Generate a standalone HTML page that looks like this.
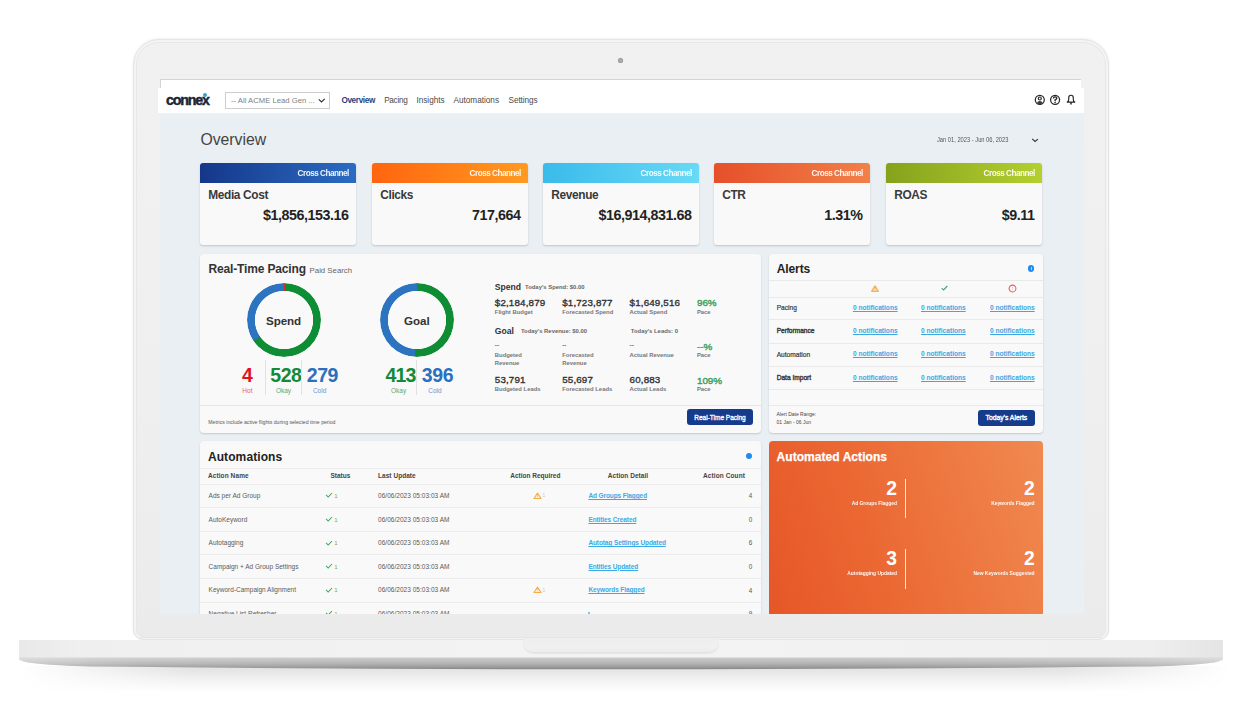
<!DOCTYPE html>
<html><head><meta charset="utf-8">
<style>
*{margin:0;padding:0;box-sizing:border-box}
html,body{width:1252px;height:705px;overflow:hidden;background:#fff}
body{position:relative;font-family:"Liberation Sans",sans-serif;color:#333}
.a{position:absolute}
.nw{white-space:nowrap}
svg{position:absolute;overflow:visible}
u{text-decoration:underline;text-underline-offset:1px}
</style></head><body>

<div class="a" style="left:20px;top:666px;width:1210px;height:26px;background:linear-gradient(#e2e2e2,#e6e6e6 20%,#efefef 45%,#f7f7f7 72%,#fff);-webkit-mask:linear-gradient(90deg,transparent 0,#000 14%,#000 86%,transparent 100%);mask:linear-gradient(90deg,transparent 0,#000 14%,#000 86%,transparent 100%)"></div>
<div class="a" style="left:133px;top:39px;width:976px;height:601px;background:linear-gradient(#f1f1f1,#efefef 60%,#ebebeb);border:1px solid #e4e4e4;border-radius:26px 26px 10px 10px;box-shadow:0 -1px 3px rgba(0,0,0,.04),0 0 2px rgba(0,0,0,.05),inset 0 0 0 2px #f4f4f4,inset 0 0 0 3px #e7e7e7"></div>
<div class="a" style="left:140px;top:628px;width:962px;height:9px;background:#ebebeb"></div>
<div class="a" style="left:140px;top:636.5px;width:962px;height:1px;background:#e5e5e5"></div>
<div class="a" style="left:19px;top:639.5px;width:1204px;height:18.5px;background:linear-gradient(90deg,#e9e9e9,#efefef 5%,#f2f2f2 30%,#f3f3f3 50%,#f2f2f2 70%,#efefef 94%,#e4e4e4)"></div>
<svg style="left:0;top:0" width="1252" height="705"><defs><linearGradient id="bb" gradientUnits="userSpaceOnUse" x1="0" y1="657.5" x2="0" y2="670.5"><stop offset="0" stop-color="#cdcdcd"/><stop offset=".45" stop-color="#b4b4b4"/><stop offset=".75" stop-color="#9a9a9a"/><stop offset=".9" stop-color="#858585"/><stop offset="1" stop-color="#a5a5a5"/></linearGradient>
<linearGradient id="bh" x1="0" y1="0" x2="1" y2="0"><stop offset="0" stop-color="#fff" stop-opacity=".35"/><stop offset=".1" stop-color="#fff" stop-opacity=".1"/><stop offset=".3" stop-color="#fff" stop-opacity="0"/><stop offset=".7" stop-color="#fff" stop-opacity="0"/><stop offset=".9" stop-color="#fff" stop-opacity=".1"/><stop offset="1" stop-color="#fff" stop-opacity=".35"/></linearGradient></defs>
<path d="M19 657.5 L1223 657.5 L1223 658.5 C1223 663.5 1190 665.8 1140 666.6 Q621 672 102 666.6 C52 665.8 19 663.5 19 658.5 Z" fill="url(#bb)"/>
<path d="M19 657.5 L1223 657.5 L1223 658.5 C1223 663.5 1190 665.8 1140 666.6 Q621 672 102 666.6 C52 665.8 19 663.5 19 658.5 Z" fill="url(#bh)"/>
</svg>
<div class="a" style="left:523px;top:638px;width:196px;height:14.5px;background:linear-gradient(#eeeeee,#f0f0f0 60%,#ececec);border-radius:0 0 10px 10px/0 0 10px 10px;box-shadow:0 1px 0 rgba(0,0,0,.05),inset 0 -1px 1px rgba(0,0,0,.04)"></div>
<div class="a" style="left:618px;top:58px;width:5.2px;height:5.2px;border-radius:50%;background:radial-gradient(circle,#b4b4b4 0,#a8a8a8 35%,#8c8c8c 70%,#9a9a9a 100%);box-shadow:0 0 1px #ccc"></div>
<div class="a" style="left:160px;top:74px;width:921px;height:1px;background:#eeeeee"></div>
<div class="a" style="left:158px;top:79px;width:926px;height:535px;overflow:hidden">
<div class="a" style="left:-158px;top:-79px;width:1252px;height:705px">
<div class="a" style="left:160px;top:113px;width:924px;height:501px;background:#eaeff3"></div>
<div class="a" style="left:160px;top:79px;width:921px;height:9px;background:#fff;border-top:1px solid #d4d4d4;border-left:1px solid #d4d4d4"></div>
<div class="a" style="left:158px;top:88px;width:926px;height:25px;background:#fff"></div>
<div class="a nw" style="top:92.78px;font-size:14.2px;line-height:14.2px;font-weight:700;color:#1b2536;letter-spacing:-1.15px;left:166px;-webkit-text-stroke:0.45px #1b2536;">connex</div>
<div class="a" style="left:203.2px;top:93.4px;width:4px;height:4px;border-radius:50%;background:#3aa3c8"></div>
<div class="a" style="left:224.5px;top:91.5px;width:105.5px;height:17px;border:1px solid #cdcdcd;background:#fff"></div>
<div class="a nw" style="top:97.08px;font-size:7.7px;line-height:7.7px;font-weight:400;color:#808080;left:231px;">-- All ACME Lead Gen ...</div>
<svg style="left:318px;top:97px" width="9" height="6"><path d="M0.8 2.3 L3.5 5 L6.7 1.8" fill="none" stroke="#2d3448" stroke-width="1.2"/></svg>
<div class="a nw" style="top:97.06px;font-size:8.2px;line-height:8.2px;font-weight:700;color:#2d3f7c;letter-spacing:-0.35px;left:341.4px;">Overview</div>
<div class="a nw" style="top:97.06px;font-size:8.2px;line-height:8.2px;font-weight:400;color:#4a4a4a;letter-spacing:-0.3px;left:384.2px;">Pacing</div>
<div class="a nw" style="top:97.06px;font-size:8.2px;line-height:8.2px;font-weight:400;color:#4a4a4a;left:416.4px;">Insights</div>
<div class="a nw" style="top:97.06px;font-size:8.2px;line-height:8.2px;font-weight:400;color:#4a4a4a;left:453.5px;">Automations</div>
<div class="a nw" style="top:97.06px;font-size:8.2px;line-height:8.2px;font-weight:400;color:#4a4a4a;letter-spacing:-0.1px;left:508.6px;">Settings</div>
<svg style="left:1033px;top:93px" width="14" height="14" viewBox="0 0 14 14">
<circle cx="6.8" cy="6.85" r="4.5" fill="none" stroke="#262626" stroke-width="1.25"/>
<circle cx="6.8" cy="5.5" r="1.5" fill="none" stroke="#262626" stroke-width="1.15"/>
<path d="M3.9 10.1 Q4.6 8.1 6.8 8.1 Q9 8.1 9.7 10.1 Q8.5 11.2 6.8 11.2 Q5.1 11.2 3.9 10.1 Z" fill="#3a3a3a"/>
</svg>
<svg style="left:1048px;top:93px" width="14" height="14" viewBox="0 0 14 14">
<circle cx="7.1" cy="6.85" r="4.5" fill="none" stroke="#262626" stroke-width="1.25"/>
<path d="M5.4 5.6 Q5.4 3.9 7.1 3.9 Q8.8 3.9 8.8 5.3 Q8.8 6.3 7.1 6.9 L7.1 7.9" fill="none" stroke="#262626" stroke-width="1.35"/>
<circle cx="7.1" cy="9.4" r="0.8" fill="#262626"/>
</svg>
<svg style="left:1064px;top:93px" width="14" height="14" viewBox="0 0 14 14">
<path d="M3.2 9.1 Q4.7 8.5 4.7 6.6 L4.7 4.9 Q4.7 2.2 7 2.2 Q9.3 2.2 9.3 4.9 L9.3 6.6 Q9.3 8.5 10.8 9.1 Z" fill="none" stroke="#262626" stroke-width="1.15" stroke-linejoin="round"/>
<path d="M7 9.3 L7 11.6" stroke="#262626" stroke-width="1.5"/>
</svg>
<div class="a nw" style="top:131.83px;font-size:15.8px;line-height:15.8px;font-weight:400;color:#444;left:200.4px;">Overview</div>
<div class="a nw" style="top:136.71px;font-size:6.6px;line-height:6.6px;font-weight:400;color:#555;left:936.5px;transform:scaleX(0.87);transform-origin:left center;">Jan 01, 2023 - Jun 06, 2023</div>
<svg style="left:1031px;top:137px" width="9" height="6"><path d="M1.2 1.9 L4.1 4.5 L6.9 2.1" fill="none" stroke="#2d3448" stroke-width="1.15"/></svg>
<div class="a" style="left:200px;top:163px;width:156px;height:82px;background:#f9f9f9;border-radius:3px;box-shadow:0 1px 2px rgba(0,0,0,.18)"></div>
<div class="a" style="left:200px;top:163px;width:156px;height:19.5px;background:linear-gradient(90deg,#15378a,#2b6cc2);border-radius:3px 3px 0 0"></div>
<div class="a nw" style="top:169.86px;font-size:8.2px;line-height:8.2px;font-weight:700;color:#fff;letter-spacing:-0.5px;right:903.2px;opacity:.93;">Cross Channel</div>
<div class="a nw" style="top:189.93px;font-size:11.9px;line-height:11.9px;font-weight:700;color:#3a3a3a;letter-spacing:-0.35px;left:208.2px;">Media Cost</div>
<div class="a nw" style="top:208.10px;font-size:14.3px;line-height:14.3px;font-weight:700;color:#222;letter-spacing:-0.45px;right:903.5px;">$1,856,153.16</div>
<div class="a" style="left:372px;top:163px;width:156px;height:82px;background:#f9f9f9;border-radius:3px;box-shadow:0 1px 2px rgba(0,0,0,.18)"></div>
<div class="a" style="left:372px;top:163px;width:156px;height:19.5px;background:linear-gradient(90deg,#ff650f,#ff9a20);border-radius:3px 3px 0 0"></div>
<div class="a nw" style="top:169.86px;font-size:8.2px;line-height:8.2px;font-weight:700;color:#fff;letter-spacing:-0.5px;right:731.2px;opacity:.93;">Cross Channel</div>
<div class="a nw" style="top:189.93px;font-size:11.9px;line-height:11.9px;font-weight:700;color:#3a3a3a;letter-spacing:-0.35px;left:380.2px;">Clicks</div>
<div class="a nw" style="top:208.10px;font-size:14.3px;line-height:14.3px;font-weight:700;color:#222;letter-spacing:-0.45px;right:731.5px;">717,664</div>
<div class="a" style="left:543px;top:163px;width:156px;height:82px;background:#f9f9f9;border-radius:3px;box-shadow:0 1px 2px rgba(0,0,0,.18)"></div>
<div class="a" style="left:543px;top:163px;width:156px;height:19.5px;background:linear-gradient(90deg,#3abbeb,#68d9f6);border-radius:3px 3px 0 0"></div>
<div class="a nw" style="top:169.86px;font-size:8.2px;line-height:8.2px;font-weight:700;color:#fff;letter-spacing:-0.5px;right:560.2px;opacity:.93;">Cross Channel</div>
<div class="a nw" style="top:189.93px;font-size:11.9px;line-height:11.9px;font-weight:700;color:#3a3a3a;letter-spacing:-0.35px;left:551.2px;">Revenue</div>
<div class="a nw" style="top:208.10px;font-size:14.3px;line-height:14.3px;font-weight:700;color:#222;letter-spacing:-0.45px;right:560.5px;">$16,914,831.68</div>
<div class="a" style="left:714px;top:163px;width:156px;height:82px;background:#f9f9f9;border-radius:3px;box-shadow:0 1px 2px rgba(0,0,0,.18)"></div>
<div class="a" style="left:714px;top:163px;width:156px;height:19.5px;background:linear-gradient(90deg,#e5502a,#f28049);border-radius:3px 3px 0 0"></div>
<div class="a nw" style="top:169.86px;font-size:8.2px;line-height:8.2px;font-weight:700;color:#fff;letter-spacing:-0.5px;right:389.20000000000005px;opacity:.93;">Cross Channel</div>
<div class="a nw" style="top:189.93px;font-size:11.9px;line-height:11.9px;font-weight:700;color:#3a3a3a;letter-spacing:-0.35px;left:722.2px;">CTR</div>
<div class="a nw" style="top:208.10px;font-size:14.3px;line-height:14.3px;font-weight:700;color:#222;letter-spacing:-0.45px;right:389.5px;">1.31%</div>
<div class="a" style="left:886px;top:163px;width:156px;height:82px;background:#f9f9f9;border-radius:3px;box-shadow:0 1px 2px rgba(0,0,0,.18)"></div>
<div class="a" style="left:886px;top:163px;width:156px;height:19.5px;background:linear-gradient(90deg,#86a21c,#b4cf2f);border-radius:3px 3px 0 0"></div>
<div class="a nw" style="top:169.86px;font-size:8.2px;line-height:8.2px;font-weight:700;color:#fff;letter-spacing:-0.5px;right:217.20000000000005px;opacity:.93;">Cross Channel</div>
<div class="a nw" style="top:189.93px;font-size:11.9px;line-height:11.9px;font-weight:700;color:#3a3a3a;letter-spacing:-0.35px;left:894.2px;">ROAS</div>
<div class="a nw" style="top:208.10px;font-size:14.3px;line-height:14.3px;font-weight:700;color:#222;letter-spacing:-0.45px;right:217.5px;">$9.11</div>
<div class="a" style="left:200px;top:254px;width:561px;height:178.5px;background:#f9f9f9;border-radius:4px;box-shadow:0 1px 2px rgba(0,0,0,.16)"></div>
<div class="a" style="left:769px;top:254px;width:273.5px;height:178.8px;background:#f9f9f9;border-radius:4px;box-shadow:0 1px 2px rgba(0,0,0,.16)"></div>
<div class="a" style="left:200px;top:441px;width:561px;height:200px;background:#f9f9f9;border-radius:4px;box-shadow:0 1px 2px rgba(0,0,0,.16)"></div>
<div class="a" style="left:769px;top:441px;width:273.6px;height:200px;background:linear-gradient(72deg,#e65527 0%,#eb6833 40%,#f08a50 100%);border-radius:4px"></div>
<div class="a nw" style="top:263.14px;font-size:12px;line-height:12px;font-weight:700;color:#333;letter-spacing:-0.15px;left:208.5px;">Real-Time Pacing</div>
<div class="a nw" style="top:266.70px;font-size:7.8px;line-height:7.8px;font-weight:400;color:#666;left:309.6px;">Paid Search</div>
<div class="a" style="left:246.60000000000002px;top:282.6px;width:74.4px;height:74.4px;border-radius:50%;background:conic-gradient(#d42a2a 0 1.5deg,#0f8d35 1.5deg 236deg,#2c73c0 236deg 360deg);-webkit-mask:radial-gradient(circle,transparent 28.8px,#000 29.5px);mask:radial-gradient(circle,transparent 28.8px,#000 29.5px)"></div>
<div class="a" style="left:379.6px;top:282.7px;width:74.4px;height:74.4px;border-radius:50%;background:conic-gradient(#0f8d35 0 184deg,#2c73c0 184deg 360deg);-webkit-mask:radial-gradient(circle,transparent 28.8px,#000 29.5px);mask:radial-gradient(circle,transparent 28.8px,#000 29.5px)"></div>
<div class="a nw" style="top:314.78px;font-size:11.6px;line-height:11.6px;font-weight:700;color:#333;letter-spacing:-0.1px;left:-16.5px;width:600px;text-align:center;">Spend</div>
<div class="a nw" style="top:314.98px;font-size:11.6px;line-height:11.6px;font-weight:700;color:#333;left:116.80000000000001px;width:600px;text-align:center;">Goal</div>
<div class="a nw" style="top:366.29px;font-size:19.5px;line-height:19.5px;font-weight:700;color:#e0141e;left:-52.599999999999994px;width:600px;text-align:center;">4</div>
<div class="a nw" style="top:366.29px;font-size:19.5px;line-height:19.5px;font-weight:700;color:#128a37;letter-spacing:-0.5px;left:270.3px;">528</div>
<div class="a nw" style="top:366.29px;font-size:19.5px;line-height:19.5px;font-weight:700;color:#2a70be;letter-spacing:-0.4px;left:306.7px;">279</div>
<div class="a nw" style="top:366.29px;font-size:19.5px;line-height:19.5px;font-weight:700;color:#128a37;letter-spacing:-0.8px;left:385.5px;">413</div>
<div class="a nw" style="top:366.29px;font-size:19.5px;line-height:19.5px;font-weight:700;color:#2a70be;letter-spacing:-0.4px;left:421.8px;">396</div>
<div class="a" style="left:265.0px;top:360px;width:1px;height:35px;background:#e2e2e2"></div>
<div class="a" style="left:301.1px;top:360px;width:1px;height:35px;background:#e2e2e2"></div>
<div class="a" style="left:416.2px;top:360px;width:1px;height:35px;background:#e2e2e2"></div>
<div class="a nw" style="top:387.90px;font-size:6.5px;line-height:6.5px;font-weight:400;color:#e8646a;left:-52.599999999999994px;width:600px;text-align:center;">Hot</div>
<div class="a nw" style="top:387.90px;font-size:6.5px;line-height:6.5px;font-weight:400;color:#5ea870;left:-16.5px;width:600px;text-align:center;">Okay</div>
<div class="a nw" style="top:387.90px;font-size:6.5px;line-height:6.5px;font-weight:400;color:#7094cc;left:19.600000000000023px;width:600px;text-align:center;">Cold</div>
<div class="a nw" style="top:387.90px;font-size:6.5px;line-height:6.5px;font-weight:400;color:#5ea870;left:98.60000000000002px;width:600px;text-align:center;">Okay</div>
<div class="a nw" style="top:387.90px;font-size:6.5px;line-height:6.5px;font-weight:400;color:#7094cc;left:134.89999999999998px;width:600px;text-align:center;">Cold</div>
<div class="a" style="left:200px;top:405px;width:561px;height:1px;background:#e6e6e6"></div>
<div class="a nw" style="top:420.24px;font-size:5.15px;line-height:5.15px;font-weight:400;color:#555;left:208.3px;">Metrics include active flights during selected time period</div>
<div class="a" style="left:686.8px;top:409.4px;width:66.5px;height:16px;background:#163b8c;border-radius:3px"></div>
<div class="a nw" style="top:415.00px;font-size:6.5px;line-height:6.5px;font-weight:400;color:#fff;left:420px;width:600px;text-align:center;-webkit-text-stroke:0.3px #fff;">Real-Time Pacing</div>
<div class="a nw" style="top:282.72px;font-size:8.6px;line-height:8.6px;font-weight:700;color:#333;left:494.8px;">Spend</div>
<div class="a nw" style="top:285.01px;font-size:5.9px;line-height:5.9px;font-weight:700;color:#666;left:525px;">Today's Spend: $0.00</div>
<div class="a nw" style="top:297.90px;font-size:9.8px;line-height:9.8px;font-weight:400;color:#333;letter-spacing:0.15px;left:494.8px;-webkit-text-stroke:0.35px #333;">$2,184,879</div>
<div class="a nw" style="top:309.61px;font-size:5.9px;line-height:5.9px;font-weight:700;color:#777;left:494.8px;">Flight Budget</div>
<div class="a nw" style="top:297.90px;font-size:9.8px;line-height:9.8px;font-weight:400;color:#333;letter-spacing:0.15px;left:562.2px;-webkit-text-stroke:0.35px #333;">$1,723,877</div>
<div class="a nw" style="top:309.61px;font-size:5.9px;line-height:5.9px;font-weight:700;color:#777;left:562.2px;">Forecasted Spend</div>
<div class="a nw" style="top:297.90px;font-size:9.8px;line-height:9.8px;font-weight:400;color:#333;letter-spacing:0.15px;left:629.6px;-webkit-text-stroke:0.35px #333;">$1,649,516</div>
<div class="a nw" style="top:309.61px;font-size:5.9px;line-height:5.9px;font-weight:700;color:#777;left:629.6px;">Actual Spend</div>
<div class="a nw" style="top:298.22px;font-size:9.9px;line-height:9.9px;font-weight:400;color:#3a9f5c;left:696.9px;-webkit-text-stroke:0.4px #3a9f5c;">96%</div>
<div class="a nw" style="top:309.61px;font-size:5.9px;line-height:5.9px;font-weight:700;color:#777;left:696.9px;">Pace</div>
<div class="a nw" style="top:326.52px;font-size:8.6px;line-height:8.6px;font-weight:700;color:#333;left:494.8px;">Goal</div>
<div class="a nw" style="top:329.41px;font-size:5.9px;line-height:5.9px;font-weight:700;color:#666;left:520.9px;">Today's Revenue: $0.00</div>
<div class="a nw" style="top:329.41px;font-size:5.9px;line-height:5.9px;font-weight:700;color:#666;left:630.8px;">Today's Leads: 0</div>
<div class="a nw" style="top:342.27px;font-size:6.3px;line-height:6.3px;font-weight:700;color:#777;left:494.8px;">--</div>
<div class="a nw" style="top:342.27px;font-size:6.3px;line-height:6.3px;font-weight:700;color:#777;left:562.2px;">--</div>
<div class="a nw" style="top:342.27px;font-size:6.3px;line-height:6.3px;font-weight:700;color:#777;left:629.6px;">--</div>
<div class="a nw" style="top:341.62px;font-size:9.9px;line-height:9.9px;font-weight:400;color:#3a9f5c;left:696.9px;-webkit-text-stroke:0.4px #3a9f5c;">--%</div>
<div class="a nw" style="top:352.81px;font-size:5.9px;line-height:5.9px;font-weight:700;color:#777;left:494.8px;">Budgeted</div>
<div class="a nw" style="top:360.61px;font-size:5.9px;line-height:5.9px;font-weight:700;color:#777;left:494.8px;">Revenue</div>
<div class="a nw" style="top:352.81px;font-size:5.9px;line-height:5.9px;font-weight:700;color:#777;left:562.2px;">Forecasted</div>
<div class="a nw" style="top:360.61px;font-size:5.9px;line-height:5.9px;font-weight:700;color:#777;left:562.2px;">Revenue</div>
<div class="a nw" style="top:352.81px;font-size:5.9px;line-height:5.9px;font-weight:700;color:#777;left:629.6px;">Actual Revenue</div>
<div class="a nw" style="top:352.81px;font-size:5.9px;line-height:5.9px;font-weight:700;color:#777;left:696.9px;">Pace</div>
<div class="a nw" style="top:375.30px;font-size:9.8px;line-height:9.8px;font-weight:400;color:#333;letter-spacing:0.15px;left:494.8px;-webkit-text-stroke:0.35px #333;">53,791</div>
<div class="a nw" style="top:386.91px;font-size:5.9px;line-height:5.9px;font-weight:700;color:#777;left:494.8px;">Budgeted Leads</div>
<div class="a nw" style="top:375.30px;font-size:9.8px;line-height:9.8px;font-weight:400;color:#333;letter-spacing:0.15px;left:562.2px;-webkit-text-stroke:0.35px #333;">55,697</div>
<div class="a nw" style="top:386.91px;font-size:5.9px;line-height:5.9px;font-weight:700;color:#777;left:562.2px;">Forecasted Leads</div>
<div class="a nw" style="top:375.30px;font-size:9.8px;line-height:9.8px;font-weight:400;color:#333;letter-spacing:0.15px;left:629.6px;-webkit-text-stroke:0.35px #333;">60,883</div>
<div class="a nw" style="top:386.91px;font-size:5.9px;line-height:5.9px;font-weight:700;color:#777;left:629.6px;">Actual Leads</div>
<div class="a nw" style="top:375.92px;font-size:9.9px;line-height:9.9px;font-weight:400;color:#3a9f5c;left:696.9px;-webkit-text-stroke:0.4px #3a9f5c;">109%</div>
<div class="a nw" style="top:386.91px;font-size:5.9px;line-height:5.9px;font-weight:700;color:#777;left:696.9px;">Pace</div>
<div class="a nw" style="top:262.74px;font-size:12px;line-height:12px;font-weight:700;color:#222;letter-spacing:-0.1px;left:776.7px;">Alerts</div>
<div class="a" style="left:1027.9px;top:265.2px;width:6.5px;height:6.5px;border-radius:50%;background:#1f8cf0"></div>
<div class="a" style="left:1030.7px;top:266.6px;width:0.9px;height:0.9px;background:rgba(255,255,255,.6)"></div>
<div class="a" style="left:1030.7px;top:268px;width:0.9px;height:2.4px;background:rgba(255,255,255,.6)"></div>
<div class="a" style="left:769px;top:280.3px;width:273.5px;height:1px;background:#e9e9e9"></div>
<div class="a" style="left:769px;top:296.5px;width:273.5px;height:1px;background:#e9e9e9"></div>
<div class="a" style="left:769px;top:319.3px;width:273.5px;height:1px;background:#e9e9e9"></div>
<div class="a" style="left:769px;top:342.6px;width:273.5px;height:1px;background:#e9e9e9"></div>
<div class="a" style="left:769px;top:366.2px;width:273.5px;height:1px;background:#e9e9e9"></div>
<div class="a" style="left:769px;top:389.2px;width:273.5px;height:1px;background:#e9e9e9"></div>
<div class="a" style="left:769px;top:405.2px;width:273.5px;height:1px;background:#e9e9e9"></div>
<svg style="left:871.3px;top:284.8px" width="8" height="7" viewBox="0 0 8 7"><path d="M4 0.9 L7.3 6.4 L0.7 6.4 Z" fill="#fde3bf" stroke="#f8b050" stroke-width="1.3" stroke-linejoin="round"/><path d="M4 3 L4 4.6" stroke="#f8b050" stroke-width=".9"/></svg>
<svg style="left:940.5px;top:285px" width="7" height="6" viewBox="0 0 7 6"><path d="M0.7 3.1 L2.6 4.9 L6.3 1" fill="none" stroke="#44a862" stroke-width="1.1"/></svg>
<svg style="left:1007.6px;top:283.8px" width="9" height="9" viewBox="0 0 9 9"><circle cx="4.5" cy="4.5" r="3.4" fill="none" stroke="#e85a62" stroke-width="1.05"/><path d="M4.5 3.1 L4.5 4.5" stroke="#ef9aa0" stroke-width="0.7"/><circle cx="4.5" cy="5.7" r="0.35" fill="#ef9aa0"/></svg>
<div class="a nw" style="top:305.11px;font-size:6.6px;line-height:6.6px;font-weight:400;color:#3c3c3c;left:776.7px;-webkit-text-stroke:0.2px #3c3c3c;">Pacing</div>
<div class="a nw" style="top:304.81px;font-size:6.6px;line-height:6.6px;font-weight:700;color:#3ca7e2;left:852.9px;"><u>0 notifications</u></div>
<div class="a nw" style="top:304.81px;font-size:6.6px;line-height:6.6px;font-weight:700;color:#3ca7e2;left:921px;"><u>0 notifications</u></div>
<div class="a nw" style="top:304.81px;font-size:6.6px;line-height:6.6px;font-weight:700;color:#3ca7e2;left:990px;"><u>0 notifications</u></div>
<div class="a nw" style="top:328.21px;font-size:6.6px;line-height:6.6px;font-weight:400;color:#3c3c3c;left:776.7px;-webkit-text-stroke:0.4px #3c3c3c;">Performance</div>
<div class="a nw" style="top:327.91px;font-size:6.6px;line-height:6.6px;font-weight:700;color:#3ca7e2;left:852.9px;"><u>0 notifications</u></div>
<div class="a nw" style="top:327.91px;font-size:6.6px;line-height:6.6px;font-weight:700;color:#3ca7e2;left:921px;"><u>0 notifications</u></div>
<div class="a nw" style="top:327.91px;font-size:6.6px;line-height:6.6px;font-weight:700;color:#3ca7e2;left:990px;"><u>0 notifications</u></div>
<div class="a nw" style="top:351.71px;font-size:6.6px;line-height:6.6px;font-weight:400;color:#3c3c3c;left:776.7px;-webkit-text-stroke:0.2px #3c3c3c;">Automation</div>
<div class="a nw" style="top:351.41px;font-size:6.6px;line-height:6.6px;font-weight:700;color:#3ca7e2;left:852.9px;"><u>0 notifications</u></div>
<div class="a nw" style="top:351.41px;font-size:6.6px;line-height:6.6px;font-weight:700;color:#3ca7e2;left:921px;"><u>0 notifications</u></div>
<div class="a nw" style="top:351.41px;font-size:6.6px;line-height:6.6px;font-weight:700;color:#3ca7e2;left:990px;"><u>0 notifications</u></div>
<div class="a nw" style="top:375.41px;font-size:6.6px;line-height:6.6px;font-weight:400;color:#3c3c3c;left:776.7px;-webkit-text-stroke:0.4px #3c3c3c;">Data Import</div>
<div class="a nw" style="top:375.11px;font-size:6.6px;line-height:6.6px;font-weight:700;color:#3ca7e2;left:852.9px;"><u>0 notifications</u></div>
<div class="a nw" style="top:375.11px;font-size:6.6px;line-height:6.6px;font-weight:700;color:#3ca7e2;left:921px;"><u>0 notifications</u></div>
<div class="a nw" style="top:375.11px;font-size:6.6px;line-height:6.6px;font-weight:700;color:#3ca7e2;left:990px;"><u>0 notifications</u></div>
<div class="a nw" style="top:411.77px;font-size:5px;line-height:5px;font-weight:400;color:#444;left:776.5px;">Alert Date Range:</div>
<div class="a nw" style="top:419.77px;font-size:5px;line-height:5px;font-weight:400;color:#444;left:776.5px;">01 Jan - 06 Jun</div>
<div class="a" style="left:977.8px;top:409.6px;width:57.2px;height:16.1px;background:#163b8c;border-radius:3px"></div>
<div class="a nw" style="top:415.04px;font-size:6.8px;line-height:6.8px;font-weight:400;color:#fff;left:706.4px;width:600px;text-align:center;-webkit-text-stroke:0.35px #fff;">Today's Alerts</div>
<div class="a nw" style="top:450.64px;font-size:12px;line-height:12px;font-weight:700;color:#222;letter-spacing:0.1px;left:207.9px;">Automations</div>
<div class="a" style="left:745.8px;top:452.8px;width:6.5px;height:6.5px;border-radius:50%;background:#1f8cf0"></div>
<div class="a" style="left:200px;top:468px;width:561px;height:1px;background:#ececec"></div>
<div class="a" style="left:200px;top:483.6px;width:561px;height:1px;background:#ececec"></div>
<div class="a nw" style="top:473.00px;font-size:6.5px;line-height:6.5px;font-weight:700;color:#444;letter-spacing:0.1px;left:207.9px;">Action Name</div>
<div class="a nw" style="top:473.00px;font-size:6.5px;line-height:6.5px;font-weight:700;color:#444;left:330.5px;">Status</div>
<div class="a nw" style="top:473.00px;font-size:6.5px;line-height:6.5px;font-weight:700;color:#444;letter-spacing:0.05px;left:378px;">Last Update</div>
<div class="a nw" style="top:473.00px;font-size:6.5px;line-height:6.5px;font-weight:700;color:#444;left:510.2px;">Action Required</div>
<div class="a nw" style="top:473.00px;font-size:6.5px;line-height:6.5px;font-weight:700;color:#444;letter-spacing:0.05px;left:607.8px;">Action Detail</div>
<div class="a nw" style="top:473.00px;font-size:6.5px;line-height:6.5px;font-weight:700;color:#444;letter-spacing:0.1px;left:703px;">Action Count</div>
<div class="a" style="left:200px;top:507.20000000000005px;width:561px;height:1px;background:#ececec"></div>
<div class="a nw" style="top:493.00px;font-size:6.5px;line-height:6.5px;font-weight:400;color:#5a5a5a;left:208.6px;">Ads per Ad Group</div>
<svg style="left:325px;top:492.30px" width="8" height="7" viewBox="0 0 8 7"><path d="M1.1 2.9 L3.2 5 L7 1" fill="none" stroke="#3aa860" stroke-width="1.05"/></svg>
<div class="a nw" style="top:493.05px;font-size:6.2px;line-height:6.2px;font-weight:400;color:#8aaa48;left:334.3px;">1</div>
<div class="a nw" style="top:493.00px;font-size:6.5px;line-height:6.5px;font-weight:400;color:#5a5a5a;letter-spacing:0.03px;left:378px;">06/06/2023 05:03:03 AM</div>
<svg style="left:533.2px;top:491.50px" width="10" height="8" viewBox="0 0 10 8"><path d="M4.4 1.2 L8.1 6.5 L1.0 6.5 Z" fill="#fdf0de" stroke="#f7ac45" stroke-width="1.15" stroke-linejoin="round"/><path d="M4.5 3.1 L4.5 4.9" stroke="#f9c480" stroke-width=".8"/></svg>
<div class="a nw" style="top:493.30px;font-size:5.2px;line-height:5.2px;font-weight:400;color:#f5b8a0;left:542.6px;">1</div>
<div class="a nw" style="top:493.00px;font-size:6.5px;line-height:6.5px;font-weight:700;color:#3aaae6;letter-spacing:-0.1px;left:588.4px;"><u>Ad Groups Flagged</u></div>
<div class="a nw" style="top:493.17px;font-size:6.3px;line-height:6.3px;font-weight:400;color:#555;right:499.79999999999995px;">4</div>
<div class="a" style="left:200px;top:530.8000000000001px;width:561px;height:1px;background:#ececec"></div>
<div class="a nw" style="top:516.60px;font-size:6.5px;line-height:6.5px;font-weight:400;color:#5a5a5a;left:208.6px;">AutoKeyword</div>
<svg style="left:325px;top:515.90px" width="8" height="7" viewBox="0 0 8 7"><path d="M1.1 2.9 L3.2 5 L7 1" fill="none" stroke="#3aa860" stroke-width="1.05"/></svg>
<div class="a nw" style="top:516.65px;font-size:6.2px;line-height:6.2px;font-weight:400;color:#8aaa48;left:334.3px;">1</div>
<div class="a nw" style="top:516.60px;font-size:6.5px;line-height:6.5px;font-weight:400;color:#5a5a5a;letter-spacing:0.03px;left:378px;">06/06/2023 05:03:03 AM</div>
<div class="a nw" style="top:516.60px;font-size:6.5px;line-height:6.5px;font-weight:700;color:#3aaae6;letter-spacing:-0.1px;left:588.4px;"><u>Entities Created</u></div>
<div class="a nw" style="top:516.77px;font-size:6.3px;line-height:6.3px;font-weight:400;color:#555;right:499.79999999999995px;">0</div>
<div class="a" style="left:200px;top:554.4000000000001px;width:561px;height:1px;background:#ececec"></div>
<div class="a nw" style="top:540.20px;font-size:6.5px;line-height:6.5px;font-weight:400;color:#5a5a5a;left:208.6px;">Autotagging</div>
<svg style="left:325px;top:539.50px" width="8" height="7" viewBox="0 0 8 7"><path d="M1.1 2.9 L3.2 5 L7 1" fill="none" stroke="#3aa860" stroke-width="1.05"/></svg>
<div class="a nw" style="top:540.25px;font-size:6.2px;line-height:6.2px;font-weight:400;color:#8aaa48;left:334.3px;">1</div>
<div class="a nw" style="top:540.20px;font-size:6.5px;line-height:6.5px;font-weight:400;color:#5a5a5a;letter-spacing:0.03px;left:378px;">06/06/2023 05:03:03 AM</div>
<div class="a nw" style="top:540.20px;font-size:6.5px;line-height:6.5px;font-weight:700;color:#3aaae6;letter-spacing:-0.1px;left:588.4px;"><u>Autotag Settings Updated</u></div>
<div class="a nw" style="top:540.37px;font-size:6.3px;line-height:6.3px;font-weight:400;color:#555;right:499.79999999999995px;">6</div>
<div class="a" style="left:200px;top:578.0px;width:561px;height:1px;background:#ececec"></div>
<div class="a nw" style="top:563.80px;font-size:6.5px;line-height:6.5px;font-weight:400;color:#5a5a5a;left:208.6px;">Campaign + Ad Group Settings</div>
<svg style="left:325px;top:563.10px" width="8" height="7" viewBox="0 0 8 7"><path d="M1.1 2.9 L3.2 5 L7 1" fill="none" stroke="#3aa860" stroke-width="1.05"/></svg>
<div class="a nw" style="top:563.85px;font-size:6.2px;line-height:6.2px;font-weight:400;color:#8aaa48;left:334.3px;">1</div>
<div class="a nw" style="top:563.80px;font-size:6.5px;line-height:6.5px;font-weight:400;color:#5a5a5a;letter-spacing:0.03px;left:378px;">06/06/2023 05:03:03 AM</div>
<div class="a nw" style="top:563.80px;font-size:6.5px;line-height:6.5px;font-weight:700;color:#3aaae6;letter-spacing:-0.1px;left:588.4px;"><u>Entities Updated</u></div>
<div class="a nw" style="top:563.97px;font-size:6.3px;line-height:6.3px;font-weight:400;color:#555;right:499.79999999999995px;">0</div>
<div class="a" style="left:200px;top:601.6px;width:561px;height:1px;background:#ececec"></div>
<div class="a nw" style="top:587.40px;font-size:6.5px;line-height:6.5px;font-weight:400;color:#5a5a5a;left:208.6px;">Keyword-Campaign Alignment</div>
<svg style="left:325px;top:586.70px" width="8" height="7" viewBox="0 0 8 7"><path d="M1.1 2.9 L3.2 5 L7 1" fill="none" stroke="#3aa860" stroke-width="1.05"/></svg>
<div class="a nw" style="top:587.45px;font-size:6.2px;line-height:6.2px;font-weight:400;color:#8aaa48;left:334.3px;">1</div>
<div class="a nw" style="top:587.40px;font-size:6.5px;line-height:6.5px;font-weight:400;color:#5a5a5a;letter-spacing:0.03px;left:378px;">06/06/2023 05:03:03 AM</div>
<svg style="left:533.2px;top:585.90px" width="10" height="8" viewBox="0 0 10 8"><path d="M4.4 1.2 L8.1 6.5 L1.0 6.5 Z" fill="#fdf0de" stroke="#f7ac45" stroke-width="1.15" stroke-linejoin="round"/><path d="M4.5 3.1 L4.5 4.9" stroke="#f9c480" stroke-width=".8"/></svg>
<div class="a nw" style="top:587.70px;font-size:5.2px;line-height:5.2px;font-weight:400;color:#f5b8a0;left:542.6px;">1</div>
<div class="a nw" style="top:587.40px;font-size:6.5px;line-height:6.5px;font-weight:700;color:#3aaae6;letter-spacing:-0.1px;left:588.4px;"><u>Keywords Flagged</u></div>
<div class="a nw" style="top:587.57px;font-size:6.3px;line-height:6.3px;font-weight:400;color:#555;right:499.79999999999995px;">4</div>
<div class="a nw" style="top:611.00px;font-size:6.5px;line-height:6.5px;font-weight:400;color:#5a5a5a;left:208.6px;">Negative List Refresher</div>
<svg style="left:325px;top:610.30px" width="8" height="7" viewBox="0 0 8 7"><path d="M1.1 2.9 L3.2 5 L7 1" fill="none" stroke="#3aa860" stroke-width="1.05"/></svg>
<div class="a nw" style="top:611.05px;font-size:6.2px;line-height:6.2px;font-weight:400;color:#8aaa48;left:334.3px;">1</div>
<div class="a nw" style="top:611.00px;font-size:6.5px;line-height:6.5px;font-weight:400;color:#5a5a5a;letter-spacing:0.03px;left:378px;">06/06/2023 05:03:03 AM</div>
<div class="a" style="left:588px;top:612.0px;width:1.5px;height:1.5px;background:#7cc3ea"></div>
<div class="a nw" style="top:611.17px;font-size:6.3px;line-height:6.3px;font-weight:400;color:#555;right:499.79999999999995px;">9</div>
<div class="a nw" style="top:451.24px;font-size:12px;line-height:12px;font-weight:700;color:#fff;letter-spacing:0.05px;left:776.6px;-webkit-text-stroke:0.25px #fff;">Automated Actions</div>
<div class="a nw" style="top:478.66px;font-size:19.3px;line-height:19.3px;font-weight:700;color:#fff;right:355px;">2</div>
<div class="a nw" style="top:501.85px;font-size:4.9px;line-height:4.9px;font-weight:700;color:#fff;right:355px;opacity:.95;">Ad Groups Flagged</div>
<div class="a nw" style="top:478.66px;font-size:19.3px;line-height:19.3px;font-weight:700;color:#fff;right:217.4000000000001px;">2</div>
<div class="a nw" style="top:501.85px;font-size:4.9px;line-height:4.9px;font-weight:700;color:#fff;right:217.4000000000001px;opacity:.95;">Keywords Flagged</div>
<div class="a nw" style="top:549.16px;font-size:19.3px;line-height:19.3px;font-weight:700;color:#fff;right:355px;">3</div>
<div class="a nw" style="top:572.35px;font-size:4.9px;line-height:4.9px;font-weight:700;color:#fff;right:355px;opacity:.95;">Autotagging Updated</div>
<div class="a nw" style="top:549.16px;font-size:19.3px;line-height:19.3px;font-weight:700;color:#fff;right:217.4000000000001px;">2</div>
<div class="a nw" style="top:572.35px;font-size:4.9px;line-height:4.9px;font-weight:700;color:#fff;right:217.4000000000001px;opacity:.95;">New Keywords Suggested</div>
<div class="a" style="left:905px;top:478.5px;width:1.2px;height:39.5px;background:rgba(255,255,255,.85)"></div>
<div class="a" style="left:905px;top:549px;width:1.2px;height:39.5px;background:rgba(255,255,255,.85)"></div>
</div></div>
</body></html>
